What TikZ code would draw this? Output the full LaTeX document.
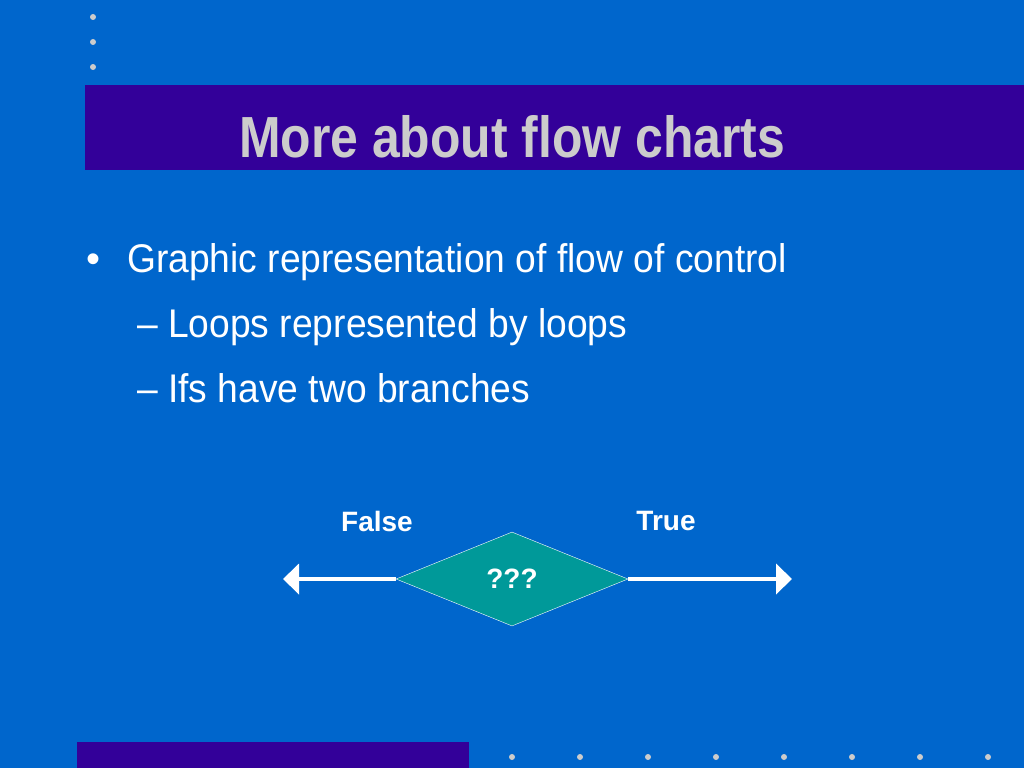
\documentclass[tikz,border=0pt]{standalone}
\usepackage{fontspec}
\setmainfont{Liberation Sans}
\usetikzlibrary{shapes.geometric,arrows.meta,positioning}
\definecolor{slidebg}{RGB}{0,102,204}
\definecolor{band}{RGB}{51,0,153}
\definecolor{dotgray}{RGB}{204,204,204}
\definecolor{teal}{RGB}{0,153,153}
\newcommand{\narrow}[2]{\scalebox{#1}[1]{#2}}
\begin{document}
\begin{tikzpicture}[x=1pt,y=-1pt,>=Latex,
    dot/.style={circle, fill=dotgray, inner sep=0pt, minimum size=6pt},
    body/.style={text=white, anchor=base west, inner sep=0pt, font=\fontsize{40}{46}\selectfont},
    lbl/.style={text=white, font=\fontsize{28}{32}\selectfont\bfseries},
    branch/.style={draw=white, line width=4pt, -{Triangle[length=16pt,width=30pt]}}]
    % Background and bands
    \fill[slidebg] (0,0) rectangle (1024,768);
    \useasboundingbox (0,0) rectangle (1024,768);
    \fill[band] (85,85) rectangle (1024,170);
    \fill[band] (77,742) rectangle (469,768);
    \foreach \y in {17,42,67} \node[dot] at (93,\y) {};
    \foreach \i in {0,...,7} \node[dot] at (512+68*\i,757) {};

    % Title and bullets
    \node[text=dotgray, font=\fontsize{58}{64}\selectfont\bfseries] (title) at (512,137) {\narrow{0.86}{More about flow charts}};
    \node[body] (bullet) at (86,272) {•};
    \node[body] (b1) at (127,272) {\narrow{0.93}{Graphic representation of flow of control}};
    \node[body] (b2) at (137,337) {\narrow{0.93}{– Loops represented by loops}};
    \node[body] (b3) at (137,402) {\narrow{0.93}{– Ifs have two branches}};

    % Decision
    \node[diamond, draw=white, fill=teal, aspect=2.47, minimum width=232pt, minimum height=94pt, inner sep=0pt,
          text=white, font=\fontsize{28}{32}\selectfont\bfseries] (test) at (512,579) {???};
    \coordinate (falseend) at (283,579);
    \coordinate (trueend) at (792,579);
    \draw[branch] (test.west) -- (falseend);
    \draw[branch] (test.east) -- (trueend);
    \node[lbl] (falselbl) at (377,521) {False};
    \node[lbl] (truelbl) at (666,521) {True};
\end{tikzpicture}
\end{document}
